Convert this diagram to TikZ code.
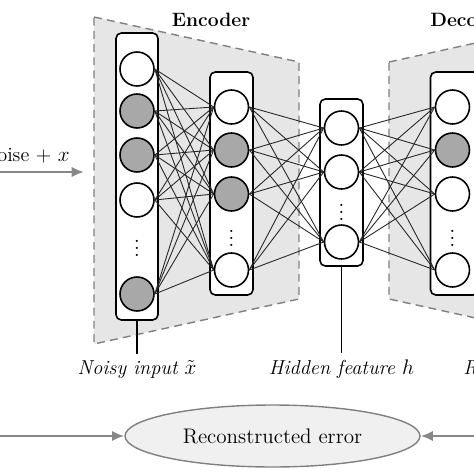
\documentclass[tikz,border=0pt]{standalone}
\usepackage{amsmath}
\usepackage{tikz}
\usetikzlibrary{shapes.geometric,arrows.meta}

\definecolor{panelgray}{HTML}{E6E6E6}
\definecolor{unitgray}{HTML}{A8A8A8}
\definecolor{flowgray}{HTML}{878787}

\tikzset{
  neuron/.style={draw, line width=0.9pt, circle, minimum size=0.68cm, inner sep=0, fill=white},
  layerbox/.style={draw, line width=0.9pt, rounded corners=3pt, fill=white, inner sep=0},
  panel/.style={draw=gray, dash pattern=on 4.5pt off 3pt, line width=0.8pt, fill=panelgray},
  flowarrow/.style={draw=flowgray, line width=1.6pt, -{Latex[length=7pt,width=6pt]}},
}

\begin{document}
\begin{tikzpicture}[x=0.02cm, y=-0.02cm]
        \useasboundingbox (0,0) rectangle (474,474);
        \clip (0,0) rectangle (474,474);
        % encoder and decoder panels
        \draw[panel] (94,17) -- (299,62) -- (299,299) -- (94,344) -- cycle;
        \draw[panel] (389,62) -- (594,17) -- (594,344) -- (389,299) -- cycle;
        \node[anchor=base] (EncTitle) at (211,26) {\fontsize{11}{13}\selectfont\bfseries Encoder};
        \node[anchor=base west, inner sep=0] (DecTitle) at (430,26) {\fontsize{11}{13}\selectfont\bfseries Deco};
        \begin{scope}[every node/.style={layerbox}]
                \node[minimum width=0.84cm, minimum height=5.74cm] (InBox) at (137,176.5) {};
                \node[minimum width=0.86cm, minimum height=4.46cm] (EncBox) at (231.5,183.5) {};
                \node[minimum width=0.86cm, minimum height=3.34cm] (HidBox) at (341.5,182.5) {};
                \node[minimum width=0.96cm, minimum height=4.46cm] (DecBox) at (454.5,183.5) {};
        \end{scope}
        \begin{scope}[every node/.style={inner sep=0}]
                \node (InDots) at (137,243) {\fontsize{15}{15}\selectfont$\vdots$};
                \node (EncDots) at (231.5,233) {\fontsize{15}{15}\selectfont$\vdots$};
                \node (HidDots) at (341.5,207) {\fontsize{15}{15}\selectfont$\vdots$};
                \node (DecDots) at (452.5,233) {\fontsize{15}{15}\selectfont$\vdots$};
        \end{scope}
        \begin{scope}[every node/.style={neuron}]
                \node (In1) at (137,69) {};
                \node[fill=unitgray] (In2) at (137,111) {};
                \node[fill=unitgray] (In3) at (137,155) {};
                \node (In4) at (137,200) {};
                \node[fill=unitgray] (In5) at (137,294) {};
                \node (Enc1) at (231.5,107) {};
                \node[fill=unitgray] (Enc2) at (231.5,150) {};
                \node[fill=unitgray] (Enc3) at (231.5,194) {};
                \node (Enc4) at (231.5,270) {};
                \node (Hid1) at (341.5,128) {};
                \node (Hid2) at (341.5,172) {};
                \node (Hid3) at (341.5,242) {};
                \node (Dec1) at (452.5,107) {};
                \node[fill=unitgray] (Dec2) at (452.5,150) {};
                \node (Dec3) at (452.5,194) {};
                \node (Dec4) at (452.5,270) {};
        \end{scope}
        \begin{scope}[every path/.style={line width=0.5pt, draw=black!85}]
                \path (In1.east) edge (Enc1.west);
                \path (In1.east) edge (Enc2.west);
                \path (In1.east) edge (Enc3.west);
                \path (In1.east) edge (Enc4.west);
                \path (In2.east) edge (Enc1.west);
                \path (In2.east) edge (Enc2.west);
                \path (In2.east) edge (Enc3.west);
                \path (In2.east) edge (Enc4.west);
                \path (In3.east) edge (Enc1.west);
                \path (In3.east) edge (Enc2.west);
                \path (In3.east) edge (Enc3.west);
                \path (In3.east) edge (Enc4.west);
                \path (In4.east) edge (Enc1.west);
                \path (In4.east) edge (Enc2.west);
                \path (In4.east) edge (Enc3.west);
                \path (In4.east) edge (Enc4.west);
                \path (In5.east) edge (Enc1.west);
                \path (In5.east) edge (Enc2.west);
                \path (In5.east) edge (Enc3.west);
                \path (In5.east) edge (Enc4.west);
                \path (Enc1.east) edge (Hid1.west);
                \path (Enc1.east) edge (Hid2.west);
                \path (Enc1.east) edge (Hid3.west);
                \path (Enc2.east) edge (Hid1.west);
                \path (Enc2.east) edge (Hid2.west);
                \path (Enc2.east) edge (Hid3.west);
                \path (Enc3.east) edge (Hid1.west);
                \path (Enc3.east) edge (Hid2.west);
                \path (Enc3.east) edge (Hid3.west);
                \path (Enc4.east) edge (Hid1.west);
                \path (Enc4.east) edge (Hid2.west);
                \path (Enc4.east) edge (Hid3.west);
                \path (Hid1.east) edge (Dec1.west);
                \path (Hid1.east) edge (Dec2.west);
                \path (Hid1.east) edge (Dec3.west);
                \path (Hid1.east) edge (Dec4.west);
                \path (Hid2.east) edge (Dec1.west);
                \path (Hid2.east) edge (Dec2.west);
                \path (Hid2.east) edge (Dec3.west);
                \path (Hid2.east) edge (Dec4.west);
                \path (Hid3.east) edge (Dec1.west);
                \path (Hid3.east) edge (Dec2.west);
                \path (Hid3.east) edge (Dec3.west);
                \path (Hid3.east) edge (Dec4.west);
        \end{scope}
        % labels below the layers
        \node[anchor=base] (NoisyLbl) at (137,374) {\fontsize{11.5}{13}\selectfont\itshape Noisy input $\tilde{x}$};
        \node[anchor=base] (HidLbl) at (341.5,374) {\fontsize{11.5}{13}\selectfont\itshape Hidden feature $h$};
        \node[anchor=base west, inner sep=0] (RecLbl) at (463,374) {\fontsize{11.5}{13}\selectfont\itshape R};
        \draw[line width=0.9pt] (InBox.south) -- (NoisyLbl.north);
        \draw[line width=0.9pt] (HidBox.south) -- (HidLbl.north);
        % noise input arrow
        \node[anchor=base west, inner sep=0] (NoiseLbl) at (-3,161) {\fontsize{11.5}{13}\selectfont oise + $x$};
        \coordinate (NoiseStart) at (0,172);
        \coordinate (NoiseEnd) at (84,172);
        \draw[flowarrow] (NoiseStart) -- (NoiseEnd);
        % reconstruction error
        \node[ellipse, draw=gray, line width=0.8pt, fill=gray!12, minimum width=5.9cm, minimum height=1.24cm, inner sep=0] (Err) at (272.5,436) {\fontsize{12}{14}\selectfont Reconstructed error};
        \coordinate (ErrLeft) at (0,436);
        \coordinate (ErrRight) at (474,436);
        \draw[flowarrow] (ErrLeft) -- (Err.west);
        \draw[flowarrow] (ErrRight) -- (Err.east);
\end{tikzpicture}
\end{document}
